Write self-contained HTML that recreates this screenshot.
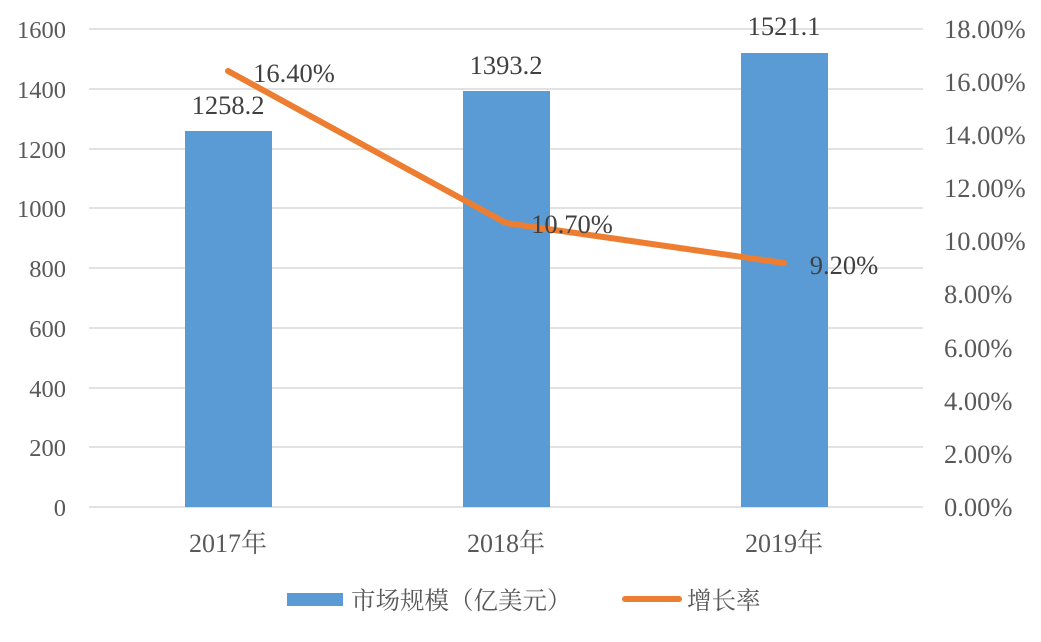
<!DOCTYPE html>
<html><head><meta charset="utf-8"><style>body{margin:0;background:#fff}</style></head>
<body>
<svg width="1041" height="637" xmlns="http://www.w3.org/2000/svg" font-family="Liberation Serif, Noto Serif CJK SC, serif">
<g stroke="#d9d9d9" stroke-width="1.5">
<line x1="89" x2="923" y1="29" y2="29"/><line x1="89" x2="923" y1="89" y2="89"/>
<line x1="89" x2="923" y1="149" y2="149"/><line x1="89" x2="923" y1="208" y2="208"/>
<line x1="89" x2="923" y1="268" y2="268"/><line x1="89" x2="923" y1="328" y2="328"/>
<line x1="89" x2="923" y1="388" y2="388"/><line x1="89" x2="923" y1="447" y2="447"/>
<line x1="89" x2="923" y1="507" y2="507"/>
</g>
<g fill="#5b9bd5">
<rect x="185" y="131" width="87" height="376"/>
<rect x="463" y="91" width="87" height="416"/>
<rect x="741" y="53" width="87" height="454"/>
</g>
<polyline points="228,71 506,223 784,263" fill="none" stroke="#ed7d31" stroke-width="6" stroke-linecap="round" stroke-linejoin="round"/>
<g fill="#595959" font-size="24.5" text-anchor="end">
<text x="66" y="38">1600</text><text x="66" y="98">1400</text><text x="66" y="158">1200</text>
<text x="66" y="217">1000</text><text x="66" y="277">800</text><text x="66" y="337">600</text>
<text x="66" y="397">400</text><text x="66" y="456">200</text><text x="66" y="516">0</text>
</g>
<g fill="#595959" font-size="26.5" text-anchor="start">
<text x="944" y="38">18.00%</text><text x="944" y="91">16.00%</text><text x="944" y="144">14.00%</text>
<text x="944" y="197">12.00%</text><text x="944" y="250">10.00%</text><text x="944" y="303">8.00%</text>
<text x="944" y="357">6.00%</text><text x="944" y="410">4.00%</text><text x="944" y="463">2.00%</text>
<text x="944" y="516">0.00%</text>
</g>
<g fill="#404040" font-size="26.5" text-anchor="middle">
<text x="228" y="114">1258.2</text><text x="506" y="74">1393.2</text><text x="784" y="35">1521.1</text>
<text x="294" y="82">16.40%</text><text x="572" y="233">10.70%</text><text x="844" y="274">9.20%</text>
</g>
<g fill="#595959" font-size="26" text-anchor="middle">
<text x="228" y="552">2017年</text><text x="506" y="552">2018年</text><text x="784" y="552">2019年</text>
</g>
<rect x="287" y="593" width="56" height="13" fill="#5b9bd5"/>
<text x="351" y="609" font-size="24.5" fill="#595959">市场规模（亿美元）</text>
<line x1="625" x2="679" y1="599" y2="599" stroke="#ed7d31" stroke-width="6" stroke-linecap="round"/>
<text x="687" y="609" font-size="24.5" fill="#595959">增长率</text>
</svg>
</body></html>
